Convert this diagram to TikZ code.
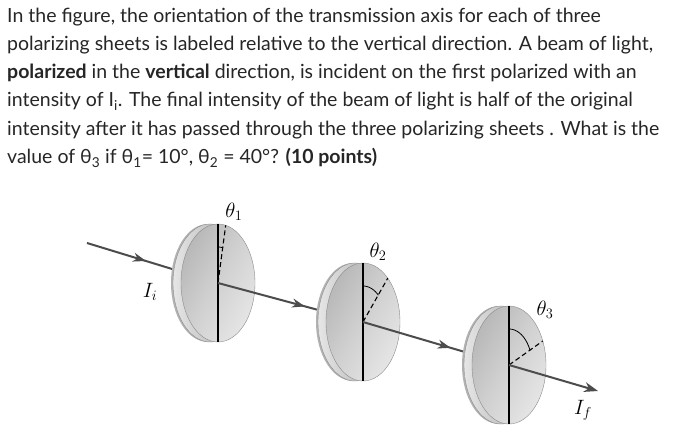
\documentclass[tikz,border=0pt]{standalone}
\usepackage{fontspec}
\setmainfont{Lato}
\usetikzlibrary{arrows.meta,calc}
\begin{document}
\begin{tikzpicture}[x=1pt,y=-1pt,
  txt/.style={anchor=base west,inner sep=0pt,font=\fontsize{19.5}{24}\selectfont,text=black!85},
  beam/.style={draw=black!70,line width=2pt},
  mid/.style={-{Stealth[length=13pt,width=9pt]},draw=black!70,line width=2pt},
  lbl/.style={font=\fontsize{22}{24}\selectfont\itshape,inner sep=0pt}]
\useasboundingbox[fill=white] (0,0) rectangle (679,430);
\node[txt] (l1) at (7,23) {In the figure, the orientation of the transmission axis for each of three};
\node[txt] (l2) at (7,51) {polarizing sheets is labeled relative to the vertical direction. A beam of light,};
\node[txt] (l3) at (7,79) {\textbf{polarized} in the \textbf{vertical} direction, is incident on the first polarized with an};
\node[txt] (l4) at (7,107) {intensity of I\textsubscript{i}. The final intensity of the beam of light is half of the original};
\node[txt] (l5) at (7,136) {intensity after it has passed through the three polarizing sheets . What is the};
\node[txt] (l6) at (7,164) {value of θ\textsubscript{3} if θ\textsubscript{1}= 10°, θ\textsubscript{2} = 40°? \textbf{(10 points)}};
\coordinate (s) at (87,243);
\coordinate (c1) at (218,283);
\coordinate (c2) at (363,322);
\coordinate (c3) at (509,365);
\coordinate (e) at (598,391);
\newcommand{\disc}[2]{%
  \fill[black!30] ($(#1)+(-10,0)$) ellipse [x radius=37,y radius=59];
  \draw[black!45,left color=black!10,right color=black!35] ($(#1)+(-8,0)$) ellipse [x radius=37,y radius=59];
  \draw[black!45,left color=black!28,right color=black!10,middle color=black!18,shading angle=60] (#1) ellipse [x radius=37,y radius=59];
  \draw[line width=2.4pt] ($(#1)+(0,-59)$) -- ($(#1)+(0,59)$);
  \draw[dash pattern=on 5pt off 3pt,line width=1.1pt] (#1) -- ++({37*sin(#2)},{-59*cos(#2)});
  \draw[line width=0.8pt,shift={(#1)}] plot[domain=0:#2,samples=20] ({23*sin(\x)},{-36*cos(\x)});
}
\draw[mid] (s) -- ($(s)!0.45!(c1)$);
\draw[beam] ($(s)!0.4!(c1)$) -- (c1);
\disc{c1}{12}
\draw[mid] (c1) -- ($(c1)!0.6!(c2)$);
\draw[beam] ($(c1)!0.55!(c2)$) -- (c2);
\disc{c2}{42}
\draw[mid] (c2) -- ($(c2)!0.6!(c3)$);
\draw[beam] ($(c2)!0.55!(c3)$) -- (c3);
\disc{c3}{66}
\draw[mid,-{Stealth[length=14pt,width=10pt]}] (c3) -- (e);
\node[lbl] (t1) at (234,212) {$\theta_1$};
\node[lbl] (t2) at (378,252) {$\theta_2$};
\node[lbl] (t3) at (545,310) {$\theta_3$};
\node[lbl] (ii) at (150,292) {$I_i$};
\node[lbl] (if) at (583,410) {$I_f$};
\end{tikzpicture}
\end{document}
